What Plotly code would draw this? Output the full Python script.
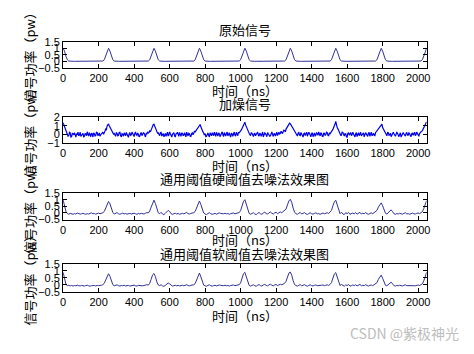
import plotly.graph_objects as go

# sample times (ns)
time_ns = list(range(0, 2049, 8))        # 8 ns spacing, 257 samples
time_fine_ns = list(range(0, 2049, 4))   # 4 ns spacing, 513 samples (noisy trace)

original = [
    1.0, 0.78, 0.38, 0.12, 0.02, 0, 0, 0, 0, 0, 0, 0, 0, 0, 0, 0, 0, 0, 0, 0, 0, 0, 0, 0, 0, 0, 0, 0, 0.02, 0.12, 0.38, 0.78,
    1.0, 0.78, 0.38, 0.12, 0.02, 0, 0, 0, 0, 0, 0, 0, 0, 0, 0, 0, 0, 0, 0, 0, 0, 0, 0, 0, 0, 0, 0, 0, 0.02, 0.12, 0.38, 0.78,
    1.0, 0.78, 0.38, 0.12, 0.02, 0, 0, 0, 0, 0, 0, 0, 0, 0, 0, 0, 0, 0, 0, 0, 0, 0, 0, 0, 0, 0, 0, 0, 0.02, 0.12, 0.38, 0.78,
    1.0, 0.78, 0.38, 0.12, 0.02, 0, 0, 0, 0, 0, 0, 0, 0, 0, 0, 0, 0, 0, 0, 0, 0, 0, 0, 0, 0, 0, 0, 0, 0.02, 0.12, 0.38, 0.78,
    1.0, 0.78, 0.38, 0.12, 0.02, 0, 0, 0, 0, 0, 0, 0, 0, 0, 0, 0, 0, 0, 0, 0, 0, 0, 0, 0, 0, 0, 0, 0, 0.02, 0.12, 0.38, 0.78,
    1.0, 0.78, 0.38, 0.12, 0.02, 0, 0, 0, 0, 0, 0, 0, 0, 0, 0, 0, 0, 0, 0, 0, 0, 0, 0, 0, 0, 0, 0, 0, 0.02, 0.12, 0.38, 0.78,
    1.0, 0.78, 0.38, 0.12, 0.02, 0, 0, 0, 0, 0, 0, 0, 0, 0, 0, 0, 0, 0, 0, 0, 0, 0, 0, 0, 0, 0, 0, 0, 0.02, 0.12, 0.38, 0.78,
    1.0, 0.78, 0.38, 0.12, 0.02, 0, 0, 0, 0, 0, 0, 0, 0, 0, 0, 0, 0, 0, 0, 0, 0, 0, 0, 0, 0, 0, 0, 0, 0.02, 0.12, 0.38, 0.78,
    1.0,
]

noisy = [
    1.35, 1.1, 0.95, 0.7, 0.52, 0.18, 0.05, -0.2,
    -0.12, 0.25, 0.18, -0.3, -0.25, 0.12, 0.08, -0.05,
    0.21, -0.18, -0.31, 0.1, 0.02, 0.28, -0.15, -0.06,
    0.27, -0.22, -0.08, 0.15, 0.12, -0.27, -0.22, 0.09,
    0.05, -0.14, 0.31, 0.03, -0.18, 0.22, -0.04, -0.26,
    0.16, 0.07, -0.29, 0.2, 0.09, -0.17, -0.11, 0.26,
    0.24, -0.1, -0.06, 0.18, -0.2, -0.03, 0.13, 0.3,
    0.28, 0.02, 0.35, 0.4, 0.62, 0.55, 0.98, 1.05,

    1.22, 1.0, 0.85, 0.75, 0.58, 0.35, 0.3, 0.05,
    0.12, -0.08, -0.21, 0.2, 0.14, -0.15, -0.09, 0.24,
    0.26, -0.12, -0.27, 0.1, 0.03, -0.2, 0.19, 0.06,
    -0.16, 0.23, 0.07, -0.25, -0.33, 0.05, 0.22, -0.1,
    -0.05, 0.28, 0.11, -0.19, -0.24, 0.13, 0.29, -0.02,
    -0.1, 0.17, 0.04, -0.28, -0.19, 0.08, 0.23, -0.13,
    -0.02, 0.2, 0.15, -0.07, -0.28, 0.11, 0.08, 0.3,
    0.17, 0.25, 0.41, 0.3, 0.55, 0.7, 0.88, 1.15,

    1.18, 0.98, 0.72, 0.6, 0.46, 0.15, 0.2, -0.1,
    -0.14, 0.22, 0.25, -0.18, -0.07, 0.12, -0.26, 0.03,
    0.13, -0.22, 0.06, 0.27, -0.18, -0.05, 0.3, 0.08,
    -0.12, -0.29, 0.02, 0.19, 0.2, -0.14, -0.3, 0.06,
    0.1, 0.25, -0.05, -0.22, 0.24, 0.02, -0.21, 0.16,
    0.15, -0.11, -0.09, 0.21, 0.01, -0.27, 0.27, 0.05,
    -0.17, 0.14, 0.08, -0.2, -0.23, 0.1, 0.18, -0.04,
    0.22, 0.35, 0.3, 0.42, 0.66, 0.78, 0.91, 1.0,

    1.05, 1.15, 0.88, 0.6, 0.5, 0.3, 0.14, -0.06,
    0.1, -0.24, -0.2, 0.16, 0.17, -0.1, -0.28, 0.2,
    0.05, -0.15, 0.21, 0.04, -0.13, 0.26, -0.02, -0.21,
    0.26, 0.06, -0.19, 0.18, 0.09, -0.25, -0.07, 0.12,
    0.31, -0.03, -0.25, 0.22, 0.04, -0.18, 0.14, 0.27,
    -0.16, 0.03, 0.2, -0.12, -0.3, 0.15, 0.07, -0.2,
    0.12, 0.28, -0.08, -0.14, 0.25, 0.0, -0.14, 0.22,
    0.19, 0.3, 0.36, 0.52, 0.7, 0.85, 1.1, 1.25,

    1.42, 1.1, 0.9, 0.7, 0.41, 0.35, 0.22, -0.05,
    -0.1, 0.2, 0.16, -0.2, -0.24, 0.06, 0.11, -0.15,
    -0.03, 0.24, 0.28, -0.08, -0.2, 0.15, 0.06, -0.22,
    0.13, 0.29, -0.27, -0.05, 0.18, 0.1, -0.06, -0.26,
    0.23, 0.12, 0.0, -0.2, -0.15, 0.19, 0.3, -0.02,
    -0.22, 0.08, 0.1, -0.18, 0.05, 0.26, -0.12, 0.1,
    0.26, 0.05, 0.12, 0.38, 0.28, 0.1, 0.35, 0.5,
    0.45, 0.3, 0.62, 0.75, 0.85, 1.0, 1.1, 1.3,

    1.25, 1.1, 0.95, 0.8, 0.66, 0.45, 0.3, 0.1,
    0.05, -0.2, -0.18, 0.15, 0.22, -0.06, -0.11, 0.24,
    0.07, -0.18, -0.29, 0.1, 0.15, -0.12, 0.03, 0.27,
    -0.2, -0.05, 0.25, 0.1, -0.04, -0.26, 0.12, 0.2,
    -0.26, 0.0, 0.19, -0.15, -0.08, 0.24, 0.06, -0.1,
    0.29, 0.05, -0.17, 0.2, 0.1, -0.21, -0.23, 0.15,
    0.14, -0.08, -0.01, 0.27, 0.21, -0.1, -0.13, 0.18,
    0.08, 0.22, 0.3, 0.45, 0.58, 0.8, 0.95, 1.2,

    1.5, 1.05, 0.8, 0.65, 0.48, 0.2, 0.15, -0.1,
    -0.08, 0.27, 0.24, -0.12, -0.19, 0.1, 0.09, -0.26,
    -0.3, 0.12, 0.18, -0.08, 0.02, 0.24, -0.14, -0.03,
    0.27, 0.04, -0.1, -0.28, 0.05, 0.22, -0.24, 0.0,
    0.2, -0.14, 0.11, 0.26, -0.16, -0.05, 0.03, 0.18,
    -0.27, -0.1, 0.22, 0.07, -0.06, -0.22, 0.13, 0.25,
    -0.2, 0.03, 0.26, -0.12, -0.09, 0.14, 0.04, -0.18,
    0.2, 0.32, 0.38, 0.5, 0.6, 0.75, 0.92, 1.02,

    1.12, 1.2, 0.8, 0.62, 0.44, 0.3, 0.18, -0.06,
    -0.15, 0.23, 0.2, -0.1, -0.05, 0.16, -0.26, -0.1,
    0.14, 0.27, 0.08, -0.16, -0.21, 0.05, 0.29, 0.1,
    -0.11, -0.25, 0.01, 0.2, -0.3, -0.05, 0.17, 0.24,
    0.06, -0.2, -0.18, 0.12, 0.24, -0.08, -0.07, 0.2,
    0.12, -0.15, -0.25, 0.08, 0.19, -0.1, 0.03, 0.26,
    -0.14, -0.02, 0.28, 0.1, -0.02, -0.2, 0.1, 0.25,
    0.3, 0.38, 0.45, 0.62, 0.8, 1.0, 1.2, 1.35,

    1.45,
]

hard_denoised = [
    1.0, 0.6, 0.12, -0.04, -0.1, -0.03, -0.07, -0.1, -0.05, -0.08, 0.0, -0.04, -0.09, -0.06, -0.02, -0.07, -0.1, -0.05, -0.08, -0.03, 0.01, -0.06, -0.04, -0.09, -0.05, -0.01, -0.06, -0.03, 0.02, 0.12, 0.35, 0.68,
    0.88, 0.7, 0.32, 0.05, -0.08, -0.04, 0.03, -0.06, -0.1, -0.05, -0.02, -0.07, -0.04, -0.09, -0.06, -0.03, -0.08, -0.05, -0.02, -0.06, -0.1, -0.04, -0.07, -0.03, -0.05, -0.08, -0.02, 0.03, 0.0, 0.15, 0.45, 0.8,
    0.98, 0.72, 0.3, 0.02, -0.06, 0.05, -0.08, -0.12, -0.02, 0.08, 0.2, 0.12, -0.05, -0.1, -0.06, -0.02, -0.08, -0.04, -0.1, -0.06, -0.03, -0.07, -0.02, 0.04, -0.05, -0.08, -0.03, 0.0, 0.02, 0.12, 0.4, 0.78,
    0.92, 0.65, 0.25, 0.0, -0.08, -0.12, -0.04, 0.02, -0.06, -0.1, -0.07, -0.03, -0.09, -0.05, 0.01, -0.04, -0.08, -0.06, -0.02, -0.07, -0.04, -0.1, -0.05, -0.03, 0.0, -0.06, -0.02, 0.05, 0.03, 0.18, 0.55, 0.88,
    1.02, 0.68, 0.2, -0.03, -0.1, -0.05, 0.02, -0.08, -0.12, -0.03, 0.04, -0.06, -0.1, 0.0, 0.06, -0.04, -0.09, 0.02, 0.07, -0.02, -0.08, 0.01, 0.05, -0.05, 0.0, 0.08, 0.02, 0.1, 0.15, 0.3, 0.62, 0.92,
    1.05, 0.8, 0.38, 0.05, -0.05, -0.1, -0.02, 0.04, -0.08, -0.05, 0.03, -0.07, -0.11, -0.04, 0.02, -0.06, -0.09, -0.03, 0.01, -0.07, -0.05, -0.1, -0.02, 0.0, -0.06, -0.03, 0.02, -0.04, 0.05, 0.2, 0.55, 0.85,
    0.98, 0.62, 0.22, -0.05, 0.06, -0.08, -0.12, 0.02, -0.05, 0.04, -0.1, -0.06, 0.0, -0.07, 0.03, -0.09, -0.04, 0.05, -0.08, -0.02, -0.06, 0.03, -0.05, -0.1, -0.04, 0.01, -0.06, 0.02, 0.08, 0.2, 0.45, 0.68,
    0.78, 0.55, 0.22, -0.02, -0.08, 0.05, 0.12, 0.24, 0.1, -0.06, -0.1, -0.04, -0.08, -0.02, -0.06, -0.09, -0.03, 0.02, -0.07, -0.05, -0.1, -0.04, -0.01, -0.06, -0.08, -0.03, 0.0, -0.05, 0.02, 0.1, 0.35, 0.7,
    0.95,
]

soft_denoised = [
    0.9, 0.45, 0.05, -0.06, -0.02, -0.07, -0.03, -0.08, -0.04, -0.06, -0.01, -0.05, -0.07, -0.03, -0.06, -0.08, -0.04, -0.02, -0.06, -0.09, -0.05, -0.02, -0.04, -0.07, -0.03, -0.05, -0.06, -0.02, 0.02, 0.12, 0.35, 0.62,
    0.8, 0.62, 0.28, 0.02, -0.06, -0.03, 0.01, -0.05, -0.08, -0.04, -0.06, -0.02, -0.07, -0.05, -0.03, -0.08, -0.06, -0.04, -0.01, -0.06, -0.08, -0.03, -0.05, -0.02, -0.06, -0.04, 0.0, 0.02, -0.01, 0.12, 0.4, 0.72,
    0.82, 0.6, 0.22, 0.0, -0.05, 0.02, -0.07, -0.09, -0.03, 0.05, 0.14, 0.08, -0.04, -0.08, -0.05, -0.02, -0.06, -0.03, -0.07, -0.05, -0.02, -0.06, -0.03, 0.02, -0.04, -0.06, -0.02, 0.0, 0.01, 0.1, 0.38, 0.72,
    0.85, 0.58, 0.2, -0.01, -0.06, -0.09, -0.03, 0.01, -0.05, -0.08, -0.05, -0.02, -0.07, -0.04, 0.0, -0.03, -0.06, -0.05, -0.02, -0.06, -0.03, -0.08, -0.04, -0.02, 0.0, -0.05, -0.02, 0.03, 0.02, 0.15, 0.5, 0.8,
    0.9, 0.58, 0.16, -0.03, -0.08, -0.04, 0.01, -0.06, -0.09, -0.02, 0.03, -0.05, -0.08, 0.0, 0.04, -0.03, -0.07, 0.01, 0.05, -0.02, -0.06, 0.0, 0.03, -0.04, 0.0, 0.05, 0.01, 0.07, 0.12, 0.26, 0.58, 0.85,
    0.92, 0.7, 0.3, 0.03, -0.04, -0.08, -0.02, 0.02, -0.06, -0.04, 0.02, -0.05, -0.09, -0.03, 0.01, -0.05, -0.07, -0.02, 0.0, -0.05, -0.04, -0.08, -0.02, 0.0, -0.05, -0.02, 0.01, -0.03, 0.04, 0.18, 0.5, 0.78,
    0.88, 0.55, 0.18, -0.04, 0.04, -0.06, -0.09, 0.01, -0.04, 0.03, -0.08, -0.05, 0.0, -0.05, 0.02, -0.07, -0.03, 0.04, -0.06, -0.02, -0.05, 0.02, -0.04, -0.08, -0.03, 0.0, -0.05, 0.01, 0.06, 0.16, 0.4, 0.6,
    0.7, 0.48, 0.18, -0.02, -0.06, 0.04, 0.1, 0.2, 0.08, -0.05, -0.08, -0.03, -0.06, -0.02, -0.05, -0.07, -0.02, 0.01, -0.05, -0.04, -0.08, -0.03, -0.01, -0.05, -0.06, -0.02, 0.0, -0.04, 0.02, 0.08, 0.3, 0.62,
    0.9,
]

titles = ["原始信号", "加燥信号", "通用阈值硬阈值去噪法效果图", "通用阈值软阈值去噪法效果图"]
series_x = [time_ns, time_fine_ns, time_ns, time_ns]
series_y = [original, noisy, hard_denoised, soft_denoised]
y_ranges = [[-0.5, 1.5], [-1, 2], [-0.5, 1.5], [-0.5, 1.5]]
y_ticks = [[-0.5, 0, 0.5, 1, 1.5], [-1, 0, 1, 2], [-0.5, 0, 0.5, 1, 1.5], [-0.5, 0, 0.5, 1, 1.5]]
x_ticks = [0, 200, 400, 600, 800, 1000, 1200, 1400, 1600, 1800, 2000]
x_label = "时间（ns）"
y_label = "信号功率（pw）"
line_colors = ["#30309a", "#0000ee", "#30309a", "#30309a"]
line_widths = [1, 1.2, 1, 1]

W, H = 474, 354
# plot boxes in pixels (top, bottom)
boxes = [(37, 64), (115, 142), (194, 221), (267, 296)]
x_left, x_right = 61, 430
title_y = [24, 101, 179, 256]
xlab_y = [87, 165, 242, 320]

CJK = "Noto Sans CJK SC"
TICKF = "Liberation Sans Narrow, Arial Narrow, Liberation Sans, Arial"

fig = go.Figure()
annotations = []
for i in range(4):
    xa = "x" if i == 0 else f"x{i+1}"
    ya = "y" if i == 0 else f"y{i+1}"
    fig.add_trace(go.Scatter(x=series_x[i], y=series_y[i], mode="lines",
                             line=dict(color=line_colors[i], width=line_widths[i]),
                             xaxis=xa, yaxis=ya, showlegend=False))
    top, bot = boxes[i]
    xkey = "xaxis" if i == 0 else f"xaxis{i+1}"
    ykey = "yaxis" if i == 0 else f"yaxis{i+1}"
    fig.update_layout(**{
        xkey: dict(domain=[x_left / W, x_right / W], anchor=ya, range=[0, 2048],
                   tickvals=x_ticks, ticks="inside", ticklen=4, tickcolor="black",
                   showline=True, linecolor="black", linewidth=1, mirror="ticks",
                   showgrid=False, zeroline=False,
                   tickfont=dict(family=TICKF, size=11, color="black")),
        ykey: dict(domain=[1 - bot / H, 1 - top / H], anchor=xa, range=y_ranges[i],
                   tickvals=y_ticks[i], ticks="inside", ticklen=4, tickcolor="black",
                   showline=True, linecolor="black", linewidth=1, mirror="ticks",
                   showgrid=False, zeroline=False,
                   tickfont=dict(family=TICKF, size=11, color="black")),
    })
    annotations.append(dict(text=titles[i], x=(x_left + x_right) / 2 / W, y=1 - title_y[i] / H,
                            xref="paper", yref="paper", xanchor="center", yanchor="middle",
                            showarrow=False, font=dict(family=CJK, size=13, color="black")))
    annotations.append(dict(text=x_label, x=(x_left + x_right) / 2 / W, y=1 - xlab_y[i] / H,
                            xref="paper", yref="paper", xanchor="center", yanchor="middle",
                            showarrow=False, font=dict(family=CJK, size=13, color="black")))
    annotations.append(dict(text=y_label, x=27 / W, y=1 - (top + bot) / 2 / H,
                            xref="paper", yref="paper", xanchor="center", yanchor="middle",
                            textangle=-90, showarrow=False,
                            font=dict(family=CJK, size=13, color="black")))

annotations.append(dict(text="CSDN @紫极神光", x=465 / W, y=1 - 338 / H, xref="paper", yref="paper",
                        xanchor="right", yanchor="middle", showarrow=False,
                        font=dict(family=CJK, size=14, color="#bdbdbd")))

fig.update_layout(width=W, height=H, margin=dict(l=0, r=0, t=0, b=0),
                  paper_bgcolor="white", plot_bgcolor="white",
                  annotations=annotations)

fig.write_html("out.html")
